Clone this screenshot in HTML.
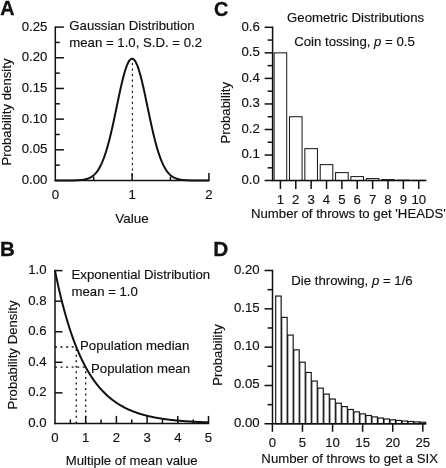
<!DOCTYPE html>
<html><head><meta charset="utf-8"><title>Distributions</title>
<style>html,body{margin:0;padding:0;background:#fff;}svg{display:block;}</style>
</head><body>
<svg width="446" height="468" viewBox="0 0 446 468" font-family="'Liberation Sans', sans-serif" fill="#111">
<line x1="55.30" y1="181.25" x2="55.30" y2="26.35" stroke="#111" stroke-width="1.5" />
<line x1="54.55" y1="180.50" x2="209.65" y2="180.50" stroke="#111" stroke-width="1.5" />
<text x="47.40" y="183.90" font-size="13.2" text-anchor="end" font-weight="normal" stroke="#111" stroke-width="0.15" >0.00</text>
<line x1="55.30" y1="165.16" x2="59.80" y2="165.16" stroke="#111" stroke-width="1.5" />
<line x1="55.30" y1="149.82" x2="63.90" y2="149.82" stroke="#111" stroke-width="1.5" />
<text x="47.40" y="153.22" font-size="13.2" text-anchor="end" font-weight="normal" stroke="#111" stroke-width="0.15" >0.05</text>
<line x1="55.30" y1="134.48" x2="59.80" y2="134.48" stroke="#111" stroke-width="1.5" />
<line x1="55.30" y1="119.14" x2="63.90" y2="119.14" stroke="#111" stroke-width="1.5" />
<text x="47.40" y="122.54" font-size="13.2" text-anchor="end" font-weight="normal" stroke="#111" stroke-width="0.15" >0.10</text>
<line x1="55.30" y1="103.80" x2="59.80" y2="103.80" stroke="#111" stroke-width="1.5" />
<line x1="55.30" y1="88.46" x2="63.90" y2="88.46" stroke="#111" stroke-width="1.5" />
<text x="47.40" y="91.86" font-size="13.2" text-anchor="end" font-weight="normal" stroke="#111" stroke-width="0.15" >0.15</text>
<line x1="55.30" y1="73.12" x2="59.80" y2="73.12" stroke="#111" stroke-width="1.5" />
<line x1="55.30" y1="57.78" x2="63.90" y2="57.78" stroke="#111" stroke-width="1.5" />
<text x="47.40" y="61.18" font-size="13.2" text-anchor="end" font-weight="normal" stroke="#111" stroke-width="0.15" >0.20</text>
<line x1="55.30" y1="42.44" x2="59.80" y2="42.44" stroke="#111" stroke-width="1.5" />
<line x1="55.30" y1="27.10" x2="63.90" y2="27.10" stroke="#111" stroke-width="1.5" />
<text x="47.40" y="30.50" font-size="13.2" text-anchor="end" font-weight="normal" stroke="#111" stroke-width="0.15" >0.25</text>
<text x="55.30" y="198.70" font-size="13.2" text-anchor="middle" font-weight="normal" stroke="#111" stroke-width="0.15" >0</text>
<line x1="93.70" y1="180.50" x2="93.70" y2="176.50" stroke="#111" stroke-width="1.5" />
<line x1="132.10" y1="180.50" x2="132.10" y2="173.00" stroke="#111" stroke-width="1.5" />
<text x="132.10" y="198.70" font-size="13.2" text-anchor="middle" font-weight="normal" stroke="#111" stroke-width="0.15" >1</text>
<line x1="170.50" y1="180.50" x2="170.50" y2="176.50" stroke="#111" stroke-width="1.5" />
<line x1="208.90" y1="180.50" x2="208.90" y2="173.00" stroke="#111" stroke-width="1.5" />
<text x="208.90" y="198.70" font-size="13.2" text-anchor="middle" font-weight="normal" stroke="#111" stroke-width="0.15" >2</text>
<path d="M55.30,180.50 L55.68,180.50 L56.07,180.50 L56.45,180.50 L56.84,180.50 L57.22,180.50 L57.60,180.50 L57.99,180.50 L58.37,180.50 L58.76,180.50 L59.14,180.50 L59.52,180.50 L59.91,180.50 L60.29,180.50 L60.68,180.50 L61.06,180.50 L61.44,180.50 L61.83,180.50 L62.21,180.50 L62.60,180.50 L62.98,180.50 L63.36,180.49 L63.75,180.49 L64.13,180.49 L64.52,180.49 L64.90,180.49 L65.28,180.49 L65.67,180.49 L66.05,180.49 L66.44,180.49 L66.82,180.49 L67.20,180.48 L67.59,180.48 L67.97,180.48 L68.36,180.48 L68.74,180.48 L69.12,180.47 L69.51,180.47 L69.89,180.47 L70.28,180.46 L70.66,180.46 L71.04,180.45 L71.43,180.45 L71.81,180.45 L72.20,180.44 L72.58,180.43 L72.96,180.43 L73.35,180.42 L73.73,180.41 L74.12,180.40 L74.50,180.39 L74.88,180.38 L75.27,180.37 L75.65,180.36 L76.04,180.34 L76.42,180.33 L76.80,180.31 L77.19,180.30 L77.57,180.28 L77.96,180.26 L78.34,180.23 L78.72,180.21 L79.11,180.18 L79.49,180.15 L79.88,180.12 L80.26,180.09 L80.64,180.05 L81.03,180.02 L81.41,179.97 L81.80,179.93 L82.18,179.88 L82.56,179.83 L82.95,179.77 L83.33,179.71 L83.72,179.65 L84.10,179.58 L84.48,179.50 L84.87,179.42 L85.25,179.34 L85.64,179.25 L86.02,179.15 L86.40,179.04 L86.79,178.93 L87.17,178.81 L87.56,178.68 L87.94,178.55 L88.32,178.40 L88.71,178.25 L89.09,178.08 L89.48,177.91 L89.86,177.72 L90.24,177.53 L90.63,177.32 L91.01,177.10 L91.40,176.86 L91.78,176.62 L92.16,176.35 L92.55,176.08 L92.93,175.78 L93.32,175.47 L93.70,175.15 L94.08,174.81 L94.47,174.44 L94.85,174.06 L95.24,173.66 L95.62,173.24 L96.00,172.80 L96.39,172.34 L96.77,171.85 L97.16,171.34 L97.54,170.81 L97.92,170.25 L98.31,169.67 L98.69,169.06 L99.08,168.43 L99.46,167.76 L99.84,167.07 L100.23,166.35 L100.61,165.60 L101.00,164.83 L101.38,164.02 L101.76,163.18 L102.15,162.31 L102.53,161.40 L102.92,160.47 L103.30,159.50 L103.68,158.50 L104.07,157.46 L104.45,156.40 L104.84,155.29 L105.22,154.16 L105.60,152.99 L105.99,151.79 L106.37,150.55 L106.76,149.28 L107.14,147.97 L107.52,146.64 L107.91,145.26 L108.29,143.86 L108.68,142.42 L109.06,140.96 L109.44,139.46 L109.83,137.93 L110.21,136.37 L110.60,134.79 L110.98,133.17 L111.36,131.53 L111.75,129.87 L112.13,128.18 L112.52,126.47 L112.90,124.74 L113.28,122.98 L113.67,121.21 L114.05,119.43 L114.44,117.63 L114.82,115.81 L115.20,113.99 L115.59,112.16 L115.97,110.32 L116.36,108.47 L116.74,106.62 L117.12,104.78 L117.51,102.93 L117.89,101.09 L118.28,99.26 L118.66,97.44 L119.04,95.63 L119.43,93.83 L119.81,92.06 L120.20,90.30 L120.58,88.56 L120.96,86.85 L121.35,85.17 L121.73,83.51 L122.12,81.89 L122.50,80.31 L122.88,78.76 L123.27,77.26 L123.65,75.80 L124.04,74.38 L124.42,73.01 L124.80,71.69 L125.19,70.43 L125.57,69.22 L125.96,68.06 L126.34,66.97 L126.72,65.94 L127.11,64.97 L127.49,64.06 L127.88,63.22 L128.26,62.45 L128.64,61.74 L129.03,61.11 L129.41,60.55 L129.80,60.06 L130.18,59.65 L130.56,59.31 L130.95,59.04 L131.33,58.85 L131.72,58.74 L132.10,58.70 L132.48,58.74 L132.87,58.85 L133.25,59.04 L133.64,59.31 L134.02,59.65 L134.40,60.06 L134.79,60.55 L135.17,61.11 L135.56,61.74 L135.94,62.45 L136.32,63.22 L136.71,64.06 L137.09,64.97 L137.48,65.94 L137.86,66.97 L138.24,68.06 L138.63,69.22 L139.01,70.43 L139.40,71.69 L139.78,73.01 L140.16,74.38 L140.55,75.80 L140.93,77.26 L141.32,78.76 L141.70,80.31 L142.08,81.89 L142.47,83.51 L142.85,85.17 L143.24,86.85 L143.62,88.56 L144.00,90.30 L144.39,92.06 L144.77,93.83 L145.16,95.63 L145.54,97.44 L145.92,99.26 L146.31,101.09 L146.69,102.93 L147.08,104.78 L147.46,106.62 L147.84,108.47 L148.23,110.32 L148.61,112.16 L149.00,113.99 L149.38,115.81 L149.76,117.63 L150.15,119.43 L150.53,121.21 L150.92,122.98 L151.30,124.74 L151.68,126.47 L152.07,128.18 L152.45,129.87 L152.84,131.53 L153.22,133.17 L153.60,134.79 L153.99,136.37 L154.37,137.93 L154.76,139.46 L155.14,140.96 L155.52,142.42 L155.91,143.86 L156.29,145.26 L156.68,146.64 L157.06,147.97 L157.44,149.28 L157.83,150.55 L158.21,151.79 L158.60,152.99 L158.98,154.16 L159.36,155.29 L159.75,156.40 L160.13,157.46 L160.52,158.50 L160.90,159.50 L161.28,160.47 L161.67,161.40 L162.05,162.31 L162.44,163.18 L162.82,164.02 L163.20,164.83 L163.59,165.60 L163.97,166.35 L164.36,167.07 L164.74,167.76 L165.12,168.43 L165.51,169.06 L165.89,169.67 L166.28,170.25 L166.66,170.81 L167.04,171.34 L167.43,171.85 L167.81,172.34 L168.20,172.80 L168.58,173.24 L168.96,173.66 L169.35,174.06 L169.73,174.44 L170.12,174.81 L170.50,175.15 L170.88,175.47 L171.27,175.78 L171.65,176.08 L172.04,176.35 L172.42,176.62 L172.80,176.86 L173.19,177.10 L173.57,177.32 L173.96,177.53 L174.34,177.72 L174.72,177.91 L175.11,178.08 L175.49,178.25 L175.88,178.40 L176.26,178.55 L176.64,178.68 L177.03,178.81 L177.41,178.93 L177.80,179.04 L178.18,179.15 L178.56,179.25 L178.95,179.34 L179.33,179.42 L179.72,179.50 L180.10,179.58 L180.48,179.65 L180.87,179.71 L181.25,179.77 L181.64,179.83 L182.02,179.88 L182.40,179.93 L182.79,179.97 L183.17,180.02 L183.56,180.05 L183.94,180.09 L184.32,180.12 L184.71,180.15 L185.09,180.18 L185.48,180.21 L185.86,180.23 L186.24,180.26 L186.63,180.28 L187.01,180.30 L187.40,180.31 L187.78,180.33 L188.16,180.34 L188.55,180.36 L188.93,180.37 L189.32,180.38 L189.70,180.39 L190.08,180.40 L190.47,180.41 L190.85,180.42 L191.24,180.43 L191.62,180.43 L192.00,180.44 L192.39,180.45 L192.77,180.45 L193.16,180.45 L193.54,180.46 L193.92,180.46 L194.31,180.47 L194.69,180.47 L195.08,180.47 L195.46,180.48 L195.84,180.48 L196.23,180.48 L196.61,180.48 L197.00,180.48 L197.38,180.49 L197.76,180.49 L198.15,180.49 L198.53,180.49 L198.92,180.49 L199.30,180.49 L199.68,180.49 L200.07,180.49 L200.45,180.49 L200.84,180.49 L201.22,180.50 L201.60,180.50 L201.99,180.50 L202.37,180.50 L202.76,180.50 L203.14,180.50 L203.52,180.50 L203.91,180.50 L204.29,180.50 L204.68,180.50 L205.06,180.50 L205.44,180.50 L205.83,180.50 L206.21,180.50 L206.60,180.50 L206.98,180.50 L207.36,180.50 L207.75,180.50 L208.13,180.50 L208.52,180.50 L208.90,180.50" fill="none" stroke="#111" stroke-width="2.0" stroke-linejoin="round" />
<line x1="132.40" y1="62.88" x2="132.40" y2="180.50" stroke="#111" stroke-width="1.1" stroke-dasharray="2.2 3.36"/>
<text x="69.30" y="30.20" font-size="13.2" text-anchor="start" font-weight="normal" stroke="#111" stroke-width="0.15" >Gaussian Distribution</text>
<text x="69.30" y="47.00" font-size="13.2" text-anchor="start" font-weight="normal" stroke="#111" stroke-width="0.15" >mean = 1.0, S.D. = 0.2</text>
<text transform="translate(10.80,112.00) rotate(-90)" font-size="13.2" text-anchor="middle" stroke="#111" stroke-width="0.15">Probability density</text>
<text x="131.90" y="222.70" font-size="13.5" text-anchor="middle" font-weight="normal" stroke="#111" stroke-width="0.15" >Value</text>
<text transform="translate(0.3,15.1) scale(1,1.06)" font-size="19.8" font-weight="bold" stroke="#111" stroke-width="0.3">A</text>
<line x1="55.00" y1="424.15" x2="55.00" y2="269.85" stroke="#111" stroke-width="1.5" />
<line x1="54.25" y1="423.40" x2="209.25" y2="423.40" stroke="#111" stroke-width="1.5" />
<text x="46.50" y="426.90" font-size="13.2" text-anchor="end" font-weight="normal" stroke="#111" stroke-width="0.15" >0.0</text>
<line x1="55.00" y1="392.84" x2="62.50" y2="392.84" stroke="#111" stroke-width="1.5" />
<text x="46.50" y="396.34" font-size="13.2" text-anchor="end" font-weight="normal" stroke="#111" stroke-width="0.15" >0.2</text>
<line x1="55.00" y1="362.28" x2="62.50" y2="362.28" stroke="#111" stroke-width="1.5" />
<text x="46.50" y="365.78" font-size="13.2" text-anchor="end" font-weight="normal" stroke="#111" stroke-width="0.15" >0.4</text>
<line x1="55.00" y1="331.72" x2="62.50" y2="331.72" stroke="#111" stroke-width="1.5" />
<text x="46.50" y="335.22" font-size="13.2" text-anchor="end" font-weight="normal" stroke="#111" stroke-width="0.15" >0.6</text>
<line x1="55.00" y1="301.16" x2="62.50" y2="301.16" stroke="#111" stroke-width="1.5" />
<text x="46.50" y="304.66" font-size="13.2" text-anchor="end" font-weight="normal" stroke="#111" stroke-width="0.15" >0.8</text>
<line x1="55.00" y1="270.60" x2="62.50" y2="270.60" stroke="#111" stroke-width="1.5" />
<text x="46.50" y="274.10" font-size="13.2" text-anchor="end" font-weight="normal" stroke="#111" stroke-width="0.15" >1.0</text>
<text x="55.00" y="442.40" font-size="13.2" text-anchor="middle" font-weight="normal" stroke="#111" stroke-width="0.15" >0</text>
<line x1="70.35" y1="423.40" x2="70.35" y2="419.40" stroke="#111" stroke-width="1.5" />
<line x1="85.70" y1="423.40" x2="85.70" y2="415.90" stroke="#111" stroke-width="1.5" />
<text x="85.70" y="442.40" font-size="13.2" text-anchor="middle" font-weight="normal" stroke="#111" stroke-width="0.15" >1</text>
<line x1="101.05" y1="423.40" x2="101.05" y2="419.40" stroke="#111" stroke-width="1.5" />
<line x1="116.40" y1="423.40" x2="116.40" y2="415.90" stroke="#111" stroke-width="1.5" />
<text x="116.40" y="442.40" font-size="13.2" text-anchor="middle" font-weight="normal" stroke="#111" stroke-width="0.15" >2</text>
<line x1="131.75" y1="423.40" x2="131.75" y2="419.40" stroke="#111" stroke-width="1.5" />
<line x1="147.10" y1="423.40" x2="147.10" y2="415.90" stroke="#111" stroke-width="1.5" />
<text x="147.10" y="442.40" font-size="13.2" text-anchor="middle" font-weight="normal" stroke="#111" stroke-width="0.15" >3</text>
<line x1="162.45" y1="423.40" x2="162.45" y2="419.40" stroke="#111" stroke-width="1.5" />
<line x1="177.80" y1="423.40" x2="177.80" y2="415.90" stroke="#111" stroke-width="1.5" />
<text x="177.80" y="442.40" font-size="13.2" text-anchor="middle" font-weight="normal" stroke="#111" stroke-width="0.15" >4</text>
<line x1="193.15" y1="423.40" x2="193.15" y2="419.40" stroke="#111" stroke-width="1.5" />
<line x1="208.50" y1="423.40" x2="208.50" y2="415.90" stroke="#111" stroke-width="1.5" />
<text x="208.50" y="442.40" font-size="13.2" text-anchor="middle" font-weight="normal" stroke="#111" stroke-width="0.15" >5</text>
<path d="M55.00,270.60 L55.51,273.13 L56.02,275.61 L56.53,278.05 L57.05,280.45 L57.56,282.82 L58.07,285.14 L58.58,287.43 L59.09,289.67 L59.60,291.88 L60.12,294.06 L60.63,296.20 L61.14,298.30 L61.65,300.37 L62.16,302.40 L62.67,304.40 L63.19,306.37 L63.70,308.30 L64.21,310.20 L64.72,312.07 L65.23,313.91 L65.75,315.72 L66.26,317.50 L66.77,319.25 L67.28,320.98 L67.79,322.67 L68.30,324.33 L68.81,325.97 L69.33,327.58 L69.84,329.16 L70.35,330.72 L70.86,332.25 L71.37,333.76 L71.89,335.24 L72.40,336.70 L72.91,338.13 L73.42,339.54 L73.93,340.93 L74.44,342.29 L74.95,343.63 L75.47,344.95 L75.98,346.25 L76.49,347.52 L77.00,348.78 L77.51,350.01 L78.03,351.22 L78.54,352.42 L79.05,353.59 L79.56,354.74 L80.07,355.88 L80.58,356.99 L81.09,358.09 L81.61,359.17 L82.12,360.23 L82.63,361.28 L83.14,362.30 L83.65,363.31 L84.16,364.31 L84.68,365.28 L85.19,366.24 L85.70,367.19 L86.21,368.12 L86.72,369.03 L87.23,369.93 L87.75,370.81 L88.26,371.68 L88.77,372.54 L89.28,373.38 L89.79,374.20 L90.30,375.02 L90.82,375.82 L91.33,376.60 L91.84,377.38 L92.35,378.14 L92.86,378.89 L93.38,379.62 L93.89,380.35 L94.40,381.06 L94.91,381.76 L95.42,382.45 L95.93,383.12 L96.45,383.79 L96.96,384.44 L97.47,385.09 L97.98,385.72 L98.49,386.34 L99.00,386.96 L99.52,387.56 L100.03,388.15 L100.54,388.73 L101.05,389.31 L101.56,389.87 L102.07,390.42 L102.59,390.97 L103.10,391.50 L103.61,392.03 L104.12,392.55 L104.63,393.06 L105.14,393.56 L105.66,394.05 L106.17,394.54 L106.68,395.02 L107.19,395.49 L107.70,395.95 L108.21,396.40 L108.72,396.85 L109.24,397.29 L109.75,397.72 L110.26,398.14 L110.77,398.56 L111.28,398.97 L111.80,399.37 L112.31,399.77 L112.82,400.16 L113.33,400.55 L113.84,400.92 L114.35,401.30 L114.86,401.66 L115.38,402.02 L115.89,402.37 L116.40,402.72 L116.91,403.06 L117.42,403.40 L117.93,403.73 L118.45,404.05 L118.96,404.37 L119.47,404.69 L119.98,405.00 L120.49,405.30 L121.00,405.60 L121.52,405.90 L122.03,406.18 L122.54,406.47 L123.05,406.75 L123.56,407.02 L124.08,407.29 L124.59,407.56 L125.10,407.82 L125.61,408.08 L126.12,408.33 L126.63,408.58 L127.15,408.83 L127.66,409.07 L128.17,409.31 L128.68,409.54 L129.19,409.77 L129.70,409.99 L130.22,410.21 L130.73,410.43 L131.24,410.65 L131.75,410.86 L132.26,411.06 L132.77,411.27 L133.28,411.47 L133.80,411.67 L134.31,411.86 L134.82,412.05 L135.33,412.24 L135.84,412.42 L136.35,412.60 L136.87,412.78 L137.38,412.96 L137.89,413.13 L138.40,413.30 L138.91,413.47 L139.43,413.63 L139.94,413.79 L140.45,413.95 L140.96,414.11 L141.47,414.26 L141.98,414.41 L142.50,414.56 L143.01,414.71 L143.52,414.85 L144.03,414.99 L144.54,415.13 L145.05,415.27 L145.56,415.40 L146.08,415.53 L146.59,415.66 L147.10,415.79 L147.61,415.92 L148.12,416.04 L148.63,416.16 L149.15,416.28 L149.66,416.40 L150.17,416.52 L150.68,416.63 L151.19,416.74 L151.70,416.85 L152.22,416.96 L152.73,417.07 L153.24,417.17 L153.75,417.27 L154.26,417.38 L154.78,417.48 L155.29,417.57 L155.80,417.67 L156.31,417.76 L156.82,417.86 L157.33,417.95 L157.84,418.04 L158.36,418.13 L158.87,418.21 L159.38,418.30 L159.89,418.38 L160.40,418.47 L160.92,418.55 L161.43,418.63 L161.94,418.71 L162.45,418.79 L162.96,418.86 L163.47,418.94 L163.98,419.01 L164.50,419.08 L165.01,419.15 L165.52,419.22 L166.03,419.29 L166.54,419.36 L167.06,419.43 L167.57,419.49 L168.08,419.56 L168.59,419.62 L169.10,419.68 L169.61,419.75 L170.12,419.81 L170.64,419.87 L171.15,419.92 L171.66,419.98 L172.17,420.04 L172.68,420.09 L173.19,420.15 L173.71,420.20 L174.22,420.26 L174.73,420.31 L175.24,420.36 L175.75,420.41 L176.27,420.46 L176.78,420.51 L177.29,420.55 L177.80,420.60 L178.31,420.65 L178.82,420.69 L179.33,420.74 L179.85,420.78 L180.36,420.83 L180.87,420.87 L181.38,420.91 L181.89,420.95 L182.41,420.99 L182.92,421.03 L183.43,421.07 L183.94,421.11 L184.45,421.15 L184.96,421.18 L185.47,421.22 L185.99,421.26 L186.50,421.29 L187.01,421.33 L187.52,421.36 L188.03,421.39 L188.54,421.43 L189.06,421.46 L189.57,421.49 L190.08,421.52 L190.59,421.56 L191.10,421.59 L191.62,421.62 L192.13,421.65 L192.64,421.67 L193.15,421.70 L193.66,421.73 L194.17,421.76 L194.69,421.79 L195.20,421.81 L195.71,421.84 L196.22,421.86 L196.73,421.89 L197.24,421.91 L197.76,421.94 L198.27,421.96 L198.78,421.99 L199.29,422.01 L199.80,422.03 L200.31,422.06 L200.82,422.08 L201.34,422.10 L201.85,422.12 L202.36,422.14 L202.87,422.16 L203.38,422.18 L203.89,422.20 L204.41,422.22 L204.92,422.24 L205.43,422.26 L205.94,422.28 L206.45,422.30 L206.97,422.32 L207.48,422.34 L207.99,422.35 L208.50,422.37" fill="none" stroke="#111" stroke-width="2.0" stroke-linejoin="round" />
<line x1="76.28" y1="423.40" x2="76.28" y2="347.00" stroke="#111" stroke-width="1.3" stroke-dasharray="2 3.56"/>
<line x1="55.00" y1="347.00" x2="76.28" y2="347.00" stroke="#111" stroke-width="1.3" stroke-dasharray="2 3.56"/>
<line x1="85.70" y1="423.40" x2="85.70" y2="367.19" stroke="#111" stroke-width="1.3" stroke-dasharray="2 3.56"/>
<line x1="55.00" y1="367.19" x2="85.70" y2="367.19" stroke="#111" stroke-width="1.3" stroke-dasharray="2 3.56"/>
<text x="71.50" y="279.40" font-size="13.2" text-anchor="start" font-weight="normal" stroke="#111" stroke-width="0.15" >Exponential Distribution</text>
<text x="71.50" y="296.00" font-size="13.2" text-anchor="start" font-weight="normal" stroke="#111" stroke-width="0.15" >mean = 1.0</text>
<text x="80.00" y="349.70" font-size="13.2" text-anchor="start" font-weight="normal" stroke="#111" stroke-width="0.15" >Population median</text>
<text x="91.00" y="372.70" font-size="13.2" text-anchor="start" font-weight="normal" stroke="#111" stroke-width="0.15" >Population mean</text>
<text transform="translate(16.80,355.00) rotate(-90)" font-size="13.2" text-anchor="middle" stroke="#111" stroke-width="0.15">Probability Density</text>
<text x="131.70" y="464.50" font-size="13.2" text-anchor="middle" font-weight="normal" stroke="#111" stroke-width="0.15" >Multiple of mean value</text>
<text x="0.00" y="255.50" font-size="20.5" text-anchor="start" font-weight="bold" stroke="#111" stroke-width="0.3" >B</text>
<rect x="274.10" y="52.85" width="12.60" height="127.75" fill="#fff" stroke="#111" stroke-width="1.0"/>
<rect x="289.47" y="116.72" width="12.60" height="63.88" fill="#fff" stroke="#111" stroke-width="1.0"/>
<rect x="304.84" y="148.66" width="12.60" height="31.94" fill="#fff" stroke="#111" stroke-width="1.0"/>
<rect x="320.21" y="164.63" width="12.60" height="15.97" fill="#fff" stroke="#111" stroke-width="1.0"/>
<rect x="335.58" y="172.62" width="12.60" height="7.98" fill="#fff" stroke="#111" stroke-width="1.0"/>
<rect x="350.95" y="176.61" width="12.60" height="3.99" fill="#fff" stroke="#111" stroke-width="1.0"/>
<rect x="366.32" y="178.60" width="12.60" height="2.00" fill="#fff" stroke="#111" stroke-width="1.0"/>
<rect x="381.69" y="179.60" width="12.60" height="1.00" fill="#fff" stroke="#111" stroke-width="1.0"/>
<rect x="397.06" y="180.10" width="12.60" height="0.50" fill="#fff" stroke="#111" stroke-width="1.0"/>
<rect x="412.43" y="180.35" width="12.60" height="0.25" fill="#fff" stroke="#111" stroke-width="1.0"/>
<line x1="272.60" y1="181.35" x2="272.60" y2="26.55" stroke="#111" stroke-width="1.5" />
<line x1="264.60" y1="180.60" x2="426.41" y2="180.60" stroke="#111" stroke-width="1.5" />
<text x="259.80" y="183.90" font-size="13.2" text-anchor="end" font-weight="normal" stroke="#111" stroke-width="0.15" >0.0</text>
<line x1="272.60" y1="167.82" x2="267.60" y2="167.82" stroke="#111" stroke-width="1.5" />
<line x1="272.60" y1="155.05" x2="264.60" y2="155.05" stroke="#111" stroke-width="1.5" />
<text x="259.80" y="158.35" font-size="13.2" text-anchor="end" font-weight="normal" stroke="#111" stroke-width="0.15" >0.1</text>
<line x1="272.60" y1="142.27" x2="267.60" y2="142.27" stroke="#111" stroke-width="1.5" />
<line x1="272.60" y1="129.50" x2="264.60" y2="129.50" stroke="#111" stroke-width="1.5" />
<text x="259.80" y="132.80" font-size="13.2" text-anchor="end" font-weight="normal" stroke="#111" stroke-width="0.15" >0.2</text>
<line x1="272.60" y1="116.72" x2="267.60" y2="116.72" stroke="#111" stroke-width="1.5" />
<line x1="272.60" y1="103.95" x2="264.60" y2="103.95" stroke="#111" stroke-width="1.5" />
<text x="259.80" y="107.25" font-size="13.2" text-anchor="end" font-weight="normal" stroke="#111" stroke-width="0.15" >0.3</text>
<line x1="272.60" y1="91.17" x2="267.60" y2="91.17" stroke="#111" stroke-width="1.5" />
<line x1="272.60" y1="78.40" x2="264.60" y2="78.40" stroke="#111" stroke-width="1.5" />
<text x="259.80" y="81.70" font-size="13.2" text-anchor="end" font-weight="normal" stroke="#111" stroke-width="0.15" >0.4</text>
<line x1="272.60" y1="65.62" x2="267.60" y2="65.62" stroke="#111" stroke-width="1.5" />
<line x1="272.60" y1="52.85" x2="264.60" y2="52.85" stroke="#111" stroke-width="1.5" />
<text x="259.80" y="56.15" font-size="13.2" text-anchor="end" font-weight="normal" stroke="#111" stroke-width="0.15" >0.5</text>
<line x1="272.60" y1="40.07" x2="267.60" y2="40.07" stroke="#111" stroke-width="1.5" />
<line x1="272.60" y1="27.30" x2="264.60" y2="27.30" stroke="#111" stroke-width="1.5" />
<text x="259.80" y="30.60" font-size="13.2" text-anchor="end" font-weight="normal" stroke="#111" stroke-width="0.15" >0.6</text>
<line x1="280.40" y1="180.60" x2="280.40" y2="189.00" stroke="#111" stroke-width="1.5" />
<text x="280.40" y="203.70" font-size="13.2" text-anchor="middle" font-weight="normal" stroke="#111" stroke-width="0.15" >1</text>
<line x1="295.77" y1="180.60" x2="295.77" y2="189.00" stroke="#111" stroke-width="1.5" />
<text x="295.77" y="203.70" font-size="13.2" text-anchor="middle" font-weight="normal" stroke="#111" stroke-width="0.15" >2</text>
<line x1="311.14" y1="180.60" x2="311.14" y2="189.00" stroke="#111" stroke-width="1.5" />
<text x="311.14" y="203.70" font-size="13.2" text-anchor="middle" font-weight="normal" stroke="#111" stroke-width="0.15" >3</text>
<line x1="326.51" y1="180.60" x2="326.51" y2="189.00" stroke="#111" stroke-width="1.5" />
<text x="326.51" y="203.70" font-size="13.2" text-anchor="middle" font-weight="normal" stroke="#111" stroke-width="0.15" >4</text>
<line x1="341.88" y1="180.60" x2="341.88" y2="189.00" stroke="#111" stroke-width="1.5" />
<text x="341.88" y="203.70" font-size="13.2" text-anchor="middle" font-weight="normal" stroke="#111" stroke-width="0.15" >5</text>
<line x1="357.25" y1="180.60" x2="357.25" y2="189.00" stroke="#111" stroke-width="1.5" />
<text x="357.25" y="203.70" font-size="13.2" text-anchor="middle" font-weight="normal" stroke="#111" stroke-width="0.15" >6</text>
<line x1="372.62" y1="180.60" x2="372.62" y2="189.00" stroke="#111" stroke-width="1.5" />
<text x="372.62" y="203.70" font-size="13.2" text-anchor="middle" font-weight="normal" stroke="#111" stroke-width="0.15" >7</text>
<line x1="387.99" y1="180.60" x2="387.99" y2="189.00" stroke="#111" stroke-width="1.5" />
<text x="387.99" y="203.70" font-size="13.2" text-anchor="middle" font-weight="normal" stroke="#111" stroke-width="0.15" >8</text>
<line x1="403.36" y1="180.60" x2="403.36" y2="189.00" stroke="#111" stroke-width="1.5" />
<text x="403.36" y="203.70" font-size="13.2" text-anchor="middle" font-weight="normal" stroke="#111" stroke-width="0.15" >9</text>
<line x1="418.73" y1="180.60" x2="418.73" y2="189.00" stroke="#111" stroke-width="1.5" />
<text x="418.73" y="203.70" font-size="13.2" text-anchor="middle" font-weight="normal" stroke="#111" stroke-width="0.15" >10</text>
<text x="355.60" y="22.20" font-size="13.2" text-anchor="middle" font-weight="normal" stroke="#111" stroke-width="0.15" >Geometric Distributions</text>
<text x="354.50" y="45.70" font-size="13.2" text-anchor="middle" font-weight="normal" stroke="#111" stroke-width="0.15" >Coin tossing, <tspan font-style="italic">p</tspan> = 0.5</text>
<text transform="translate(229.70,112.70) rotate(-90)" font-size="13.2" text-anchor="middle" stroke="#111" stroke-width="0.15">Probability</text>
<text x="348.40" y="218.40" font-size="13.2" text-anchor="middle" font-weight="normal" stroke="#111" stroke-width="0.15" >Number of throws to get 'HEADS'</text>
<text x="214.00" y="15.50" font-size="19.9" text-anchor="start" font-weight="bold" stroke="#111" stroke-width="0.3" >C</text>
<rect x="275.70" y="296.05" width="5.44" height="127.75" fill="#fff" stroke="#111" stroke-width="1.15"/>
<rect x="281.71" y="317.34" width="5.44" height="106.46" fill="#fff" stroke="#111" stroke-width="1.15"/>
<rect x="287.73" y="335.08" width="5.44" height="88.72" fill="#fff" stroke="#111" stroke-width="1.15"/>
<rect x="293.74" y="349.87" width="5.44" height="73.93" fill="#fff" stroke="#111" stroke-width="1.15"/>
<rect x="299.76" y="362.19" width="5.44" height="61.61" fill="#fff" stroke="#111" stroke-width="1.15"/>
<rect x="305.78" y="372.46" width="5.44" height="51.34" fill="#fff" stroke="#111" stroke-width="1.15"/>
<rect x="311.79" y="381.02" width="5.44" height="42.78" fill="#fff" stroke="#111" stroke-width="1.15"/>
<rect x="317.81" y="388.15" width="5.44" height="35.65" fill="#fff" stroke="#111" stroke-width="1.15"/>
<rect x="323.82" y="394.09" width="5.44" height="29.71" fill="#fff" stroke="#111" stroke-width="1.15"/>
<rect x="329.84" y="399.04" width="5.44" height="24.76" fill="#fff" stroke="#111" stroke-width="1.15"/>
<rect x="335.86" y="403.17" width="5.44" height="20.63" fill="#fff" stroke="#111" stroke-width="1.15"/>
<rect x="341.87" y="406.61" width="5.44" height="17.19" fill="#fff" stroke="#111" stroke-width="1.15"/>
<rect x="347.89" y="409.47" width="5.44" height="14.33" fill="#fff" stroke="#111" stroke-width="1.15"/>
<rect x="353.90" y="411.86" width="5.44" height="11.94" fill="#fff" stroke="#111" stroke-width="1.15"/>
<rect x="359.92" y="413.85" width="5.44" height="9.95" fill="#fff" stroke="#111" stroke-width="1.15"/>
<rect x="365.94" y="415.51" width="5.44" height="8.29" fill="#fff" stroke="#111" stroke-width="1.15"/>
<rect x="371.95" y="416.89" width="5.44" height="6.91" fill="#fff" stroke="#111" stroke-width="1.15"/>
<rect x="377.97" y="418.04" width="5.44" height="5.76" fill="#fff" stroke="#111" stroke-width="1.15"/>
<rect x="383.98" y="419.00" width="5.44" height="4.80" fill="#fff" stroke="#111" stroke-width="1.15"/>
<rect x="390.00" y="419.80" width="5.44" height="4.00" fill="#fff" stroke="#111" stroke-width="1.15"/>
<rect x="396.02" y="420.47" width="5.44" height="3.33" fill="#fff" stroke="#111" stroke-width="1.15"/>
<rect x="402.03" y="421.02" width="5.44" height="2.78" fill="#fff" stroke="#111" stroke-width="1.15"/>
<rect x="408.05" y="421.49" width="5.44" height="2.31" fill="#fff" stroke="#111" stroke-width="1.15"/>
<rect x="414.06" y="421.87" width="5.44" height="1.93" fill="#fff" stroke="#111" stroke-width="1.15"/>
<rect x="420.08" y="422.19" width="5.44" height="1.61" fill="#fff" stroke="#111" stroke-width="1.15"/>
<line x1="272.50" y1="424.55" x2="272.50" y2="269.75" stroke="#111" stroke-width="1.5" />
<line x1="264.50" y1="423.80" x2="426.41" y2="423.80" stroke="#111" stroke-width="1.5" />
<text x="259.60" y="426.80" font-size="13.2" text-anchor="end" font-weight="normal" stroke="#111" stroke-width="0.15" >0.00</text>
<line x1="272.50" y1="404.64" x2="267.50" y2="404.64" stroke="#111" stroke-width="1.5" />
<line x1="272.50" y1="385.48" x2="264.50" y2="385.48" stroke="#111" stroke-width="1.5" />
<text x="259.60" y="388.48" font-size="13.2" text-anchor="end" font-weight="normal" stroke="#111" stroke-width="0.15" >0.05</text>
<line x1="272.50" y1="366.31" x2="267.50" y2="366.31" stroke="#111" stroke-width="1.5" />
<line x1="272.50" y1="347.15" x2="264.50" y2="347.15" stroke="#111" stroke-width="1.5" />
<text x="259.60" y="350.15" font-size="13.2" text-anchor="end" font-weight="normal" stroke="#111" stroke-width="0.15" >0.10</text>
<line x1="272.50" y1="327.99" x2="267.50" y2="327.99" stroke="#111" stroke-width="1.5" />
<line x1="272.50" y1="308.82" x2="264.50" y2="308.82" stroke="#111" stroke-width="1.5" />
<text x="259.60" y="311.82" font-size="13.2" text-anchor="end" font-weight="normal" stroke="#111" stroke-width="0.15" >0.15</text>
<line x1="272.50" y1="289.66" x2="267.50" y2="289.66" stroke="#111" stroke-width="1.5" />
<line x1="272.50" y1="270.50" x2="264.50" y2="270.50" stroke="#111" stroke-width="1.5" />
<text x="259.60" y="273.50" font-size="13.2" text-anchor="end" font-weight="normal" stroke="#111" stroke-width="0.15" >0.20</text>
<line x1="272.40" y1="423.80" x2="272.40" y2="431.80" stroke="#111" stroke-width="1.5" />
<text x="272.40" y="446.50" font-size="13.2" text-anchor="middle" font-weight="normal" stroke="#111" stroke-width="0.15" >0</text>
<line x1="302.48" y1="423.80" x2="302.48" y2="431.80" stroke="#111" stroke-width="1.5" />
<text x="302.48" y="446.50" font-size="13.2" text-anchor="middle" font-weight="normal" stroke="#111" stroke-width="0.15" >5</text>
<line x1="332.56" y1="423.80" x2="332.56" y2="431.80" stroke="#111" stroke-width="1.5" />
<text x="332.56" y="446.50" font-size="13.2" text-anchor="middle" font-weight="normal" stroke="#111" stroke-width="0.15" >10</text>
<line x1="362.64" y1="423.80" x2="362.64" y2="431.80" stroke="#111" stroke-width="1.5" />
<text x="362.64" y="446.50" font-size="13.2" text-anchor="middle" font-weight="normal" stroke="#111" stroke-width="0.15" >15</text>
<line x1="392.72" y1="423.80" x2="392.72" y2="431.80" stroke="#111" stroke-width="1.5" />
<text x="392.72" y="446.50" font-size="13.2" text-anchor="middle" font-weight="normal" stroke="#111" stroke-width="0.15" >20</text>
<line x1="422.80" y1="423.80" x2="422.80" y2="431.80" stroke="#111" stroke-width="1.5" />
<text x="422.80" y="446.50" font-size="13.2" text-anchor="middle" font-weight="normal" stroke="#111" stroke-width="0.15" >25</text>
<text x="352.00" y="284.50" font-size="13.2" text-anchor="middle" font-weight="normal" stroke="#111" stroke-width="0.15" >Die throwing, <tspan font-style="italic">p</tspan> = 1/6</text>
<text transform="translate(221.50,355.00) rotate(-90)" font-size="13.2" text-anchor="middle" stroke="#111" stroke-width="0.15">Probability</text>
<text x="349.70" y="462.70" font-size="13.2" text-anchor="middle" font-weight="normal" stroke="#111" stroke-width="0.15" >Number of throws to get a SIX</text>
<text x="213.30" y="255.50" font-size="20.8" text-anchor="start" font-weight="bold" stroke="#111" stroke-width="0.3" >D</text>
</svg>
</body></html>
